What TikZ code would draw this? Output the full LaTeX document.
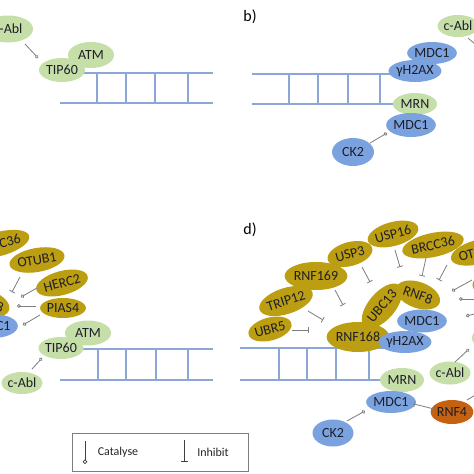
\documentclass[tikz,border=0pt]{standalone}
\usepackage{fontspec}
\setmainfont{Carlito}
\usetikzlibrary{shapes.geometric,arrows.meta}
\definecolor{gr}{RGB}{198,222,168}
\definecolor{bl}{RGB}{122,162,222}
\definecolor{ol}{RGB}{188,158,18}
\definecolor{orn}{RGB}{196,98,18}
\definecolor{dna}{RGB}{140,166,216}
\definecolor{cn}{RGB}{125,125,125}
\definecolor{txt}{RGB}{30,30,40}
\tikzset{
  prot/.style={ellipse, inner sep=0pt, text=txt, font=\fontsize{14}{14}\selectfont},
  grn/.style={prot, fill=gr},
  blu/.style={prot, fill=bl},
  oli/.style={prot, fill=ol},
  ora/.style={prot, fill=orn},
  dnaline/.style={draw=dna, line width=1.3pt},
  cat/.style={draw=cn, line width=0.8pt, -{Circle[open,length=3.6pt,width=3.6pt]}},
  inh/.style={draw=cn, line width=0.8pt, -{Bar[width=6pt,line width=0.8pt]}},
  plain/.style={draw=cn, line width=0.8pt},
  lab/.style={font=\fontsize{16}{16}\selectfont, text=black}
}
\newcommand{\dnaladder}[6]{% xtopstart, xbotstart, xend, ytop, ybot, rungs
  \draw[dnaline] (#1,#4) -- (#3,#4);
  \draw[dnaline] (#2,#5) -- (#3,#5);
  \foreach \r in {#6} {\draw[dnaline] (\r,#4) -- (\r,#5);}
}
\begin{document}
\begin{tikzpicture}[x=1pt,y=-1pt]
\useasboundingbox (0,0) rectangle (474,474);
\clip (0,0) rectangle (474,474);
\fill[white] (0,0) rectangle (474,474);

% ---------- panel a ----------
\dnaladder{70}{60}{213}{73}{103}{97,126,155,188}
\node[grn, minimum width=50pt, minimum height=27pt] (cabla) at (8,29) {c-Abl};
\node[grn, minimum width=46pt, minimum height=26pt] (atma) at (91,55) {ATM};
\node[grn, minimum width=46pt, minimum height=24pt] (tipa) at (62,70) {TIP60};
\coordinate (ca1) at (25,44); \coordinate (ca2) at (38,58);
\draw[cat] (ca1) -- (ca2);

% ---------- panel b ----------
\node[lab] (lb) at (250,17) {b)};
\dnaladder{252}{252}{400}{74}{104}{289,318,348,380}
\node[blu, minimum width=45pt, minimum height=22pt] (mdcb1) at (432,53) {MDC1};
\node[blu, minimum width=47pt, minimum height=22pt] (ghb) at (415,71) {γH2AX};
\node[grn, minimum width=44pt, minimum height=22pt] (mrnb) at (415,104) {MRN};
\node[blu, minimum width=45pt, minimum height=24pt] (mdcb2) at (411,125) {MDC1};
\node[blu, minimum width=42pt, minimum height=28pt] (ck2b) at (353,152) {CK2};
\coordinate (cb1) at (370,143); \coordinate (cb2) at (387,133);
\draw[cat] (cb1) -- (cb2);
\node[grn, minimum width=40pt, minimum height=22pt] (cablb) at (458,26) {c-Abl};
\coordinate (cb3) at (468,38); \coordinate (cb4) at (482,50);
\draw[plain] (cb3) -- (cb4);

% ---------- panel c ----------
\dnaladder{80}{60}{213}{349}{380}{98,126,156,188}
\node[oli, minimum width=48pt, minimum height=24pt, rotate=15] (brccc) at (-1,244) {BRCC36};
\node[oli, minimum width=47pt, minimum height=24pt, rotate=10] (otubc) at (37,260) {OTUB1};
\node[oli, minimum width=44pt, minimum height=24pt, rotate=15] (hercc) at (62,283) {HERC2};
\node[oli, minimum width=44pt, minimum height=20pt] (piasc) at (63,308) {PIAS4};
\node[oli, minimum width=42pt, minimum height=24pt, rotate=-20] (rnf8c) at (-11,303) {RNF8};
\node[blu, minimum width=42pt, minimum height=24pt] (mdcc) at (-7,326) {MDC1};
\node[grn, minimum width=46pt, minimum height=25pt] (atmc) at (88,333) {ATM};
\node[grn, minimum width=45pt, minimum height=22pt] (tipc) at (61,348) {TIP60};
\node[grn, minimum width=40pt, minimum height=22pt] (cablc) at (22,383) {c-Abl};
\coordinate (cc1) at (32,369); \coordinate (cc2) at (42,358);
\draw[cat] (cc1) -- (cc2);
\coordinate (cc3) at (20,277); \coordinate (cc4) at (12,292);
\draw[inh] (cc3) -- (cc4);
\coordinate (cc5) at (37,288); \coordinate (cc6) at (21,297);
\draw[cat] (cc5) -- (cc6);
\coordinate (cc7) at (36,306); \coordinate (cc8) at (17,306);
\draw[cat] (cc7) -- (cc8);
\coordinate (cc9) at (40,315); \coordinate (cc10) at (23,325);
\draw[cat] (cc9) -- (cc10);

% ---------- panel d ----------
\node[lab] (ld) at (250,230) {d)};
\dnaladder{240}{240}{390}{348}{380}{279,307,336,369}
\node[oli, minimum width=48pt, minimum height=24pt, rotate=15] (usp16) at (393,234) {USP16};
\node[oli, minimum width=46pt, minimum height=24pt, rotate=15] (usp3) at (350,254) {USP3};
\node[oli, minimum width=49pt, minimum height=24pt, rotate=12] (brccd) at (433,245) {BRCC36};
\node[oli, minimum width=48pt, minimum height=24pt, rotate=15] (otubd) at (478,252) {OTUB1};
\node[oli, minimum width=44pt, minimum height=24pt, rotate=15] (hercd) at (494,281) {};
\node[oli, minimum width=49pt, minimum height=28pt] (rnf169) at (316,276) {RNF169};
\node[oli, minimum width=46pt, minimum height=26pt, rotate=18] (trip12) at (286,301) {TRIP12};
\node[oli, minimum width=40pt, minimum height=23pt, rotate=15] (ubr5) at (270,329) {UBR5};
\node[blu, minimum width=46pt, minimum height=23pt] (mdcd1) at (422,321) {MDC1};
\node[oli, minimum width=46pt, minimum height=26pt, rotate=-20] (rnf8d) at (418,295) {RNF8};
\node[oli, minimum width=46pt, minimum height=27pt, rotate=50] (ubc13) at (382,306) {UBC13};
\node[oli, minimum width=53pt, minimum height=30pt] (rnf168) at (358,337) {RNF168};
\node[blu, minimum width=46pt, minimum height=22pt] (ghd) at (405,342) {γH2AX};
\node[grn, minimum width=40pt, minimum height=24pt] (tipd) at (492,338) {};
\node[grn, minimum width=44pt, minimum height=24pt] (mrnd) at (402,380) {MRN};
\node[blu, minimum width=46pt, minimum height=22pt] (mdcd2) at (391,402) {MDC1};
\node[blu, minimum width=41pt, minimum height=27pt] (ck2d) at (333,433) {CK2};
\node[grn, minimum width=40pt, minimum height=23pt] (cabld) at (450,373) {c-Abl};
\node[ora, minimum width=39pt, minimum height=24pt] (rnf4) at (452,412) {RNF4};
% connectors d
\coordinate (d1) at (347,421); \coordinate (d2) at (365,411);
\draw[cat] (d1) -- (d2);
\coordinate (d3) at (455,362); \coordinate (d4) at (469,349);
\draw[cat] (d3) -- (d4);
\coordinate (d5) at (434,409); \coordinate (d6) at (414,404);
\draw[inh] (d5) -- (d6);
\coordinate (d7) at (467,400); \coordinate (d8) at (482,391);
\draw[plain] (d7) -- (d8);
\coordinate (d9) at (472,280); \coordinate (d10) at (452,291);
\draw[cat] (d9) -- (d10);
\coordinate (d11) at (478,299); \coordinate (d12) at (459,299);
\draw[cat] (d11) -- (d12);
\coordinate (d13) at (479,313); \coordinate (d14) at (466,316);
\draw[cat] (d13) -- (d14);
\coordinate (i1) at (395,250); \coordinate (i2) at (400,267);
\draw[inh] (i1) -- (i2);
\coordinate (i3) at (362,267); \coordinate (i4) at (370,282);
\draw[inh] (i3) -- (i4);
\coordinate (i5) at (426,258); \coordinate (i6) at (422,276);
\draw[inh] (i5) -- (i6);
\coordinate (i7) at (447,265); \coordinate (i8) at (439,280);
\draw[inh] (i7) -- (i8);
\coordinate (i9) at (335,290); \coordinate (i10) at (343,305);
\draw[inh] (i9) -- (i10);
\coordinate (i11) at (308,311); \coordinate (i12) at (323,320);
\draw[inh] (i11) -- (i12);
\coordinate (i13) at (292,330); \coordinate (i14) at (309,330);
\draw[inh] (i13) -- (i14);

% ---------- legend ----------
\node[draw=cn, line width=1pt, minimum width=176pt, minimum height=38pt, inner sep=0pt] (legend) at (160,452) {};
\coordinate (lc1) at (85,441); \coordinate (lc2) at (85,464);
\draw[draw=black!75, line width=0.7pt, -{Circle[open,length=4.5pt,width=4.5pt]}] (lc1) -- (lc2);
\node[font=\fontsize{12}{12}\selectfont, text=black!85] (lcat) at (118,452) {Catalyse};
\coordinate (li1) at (184,440); \coordinate (li2) at (184,462);
\draw[draw=black!75, line width=0.7pt, -{Bar[width=7pt,line width=0.7pt]}] (li1) -- (li2);
\node[font=\fontsize{12}{12}\selectfont, text=black!85] (linh) at (213,452) {Inhibit};
\end{tikzpicture}
\end{document}
